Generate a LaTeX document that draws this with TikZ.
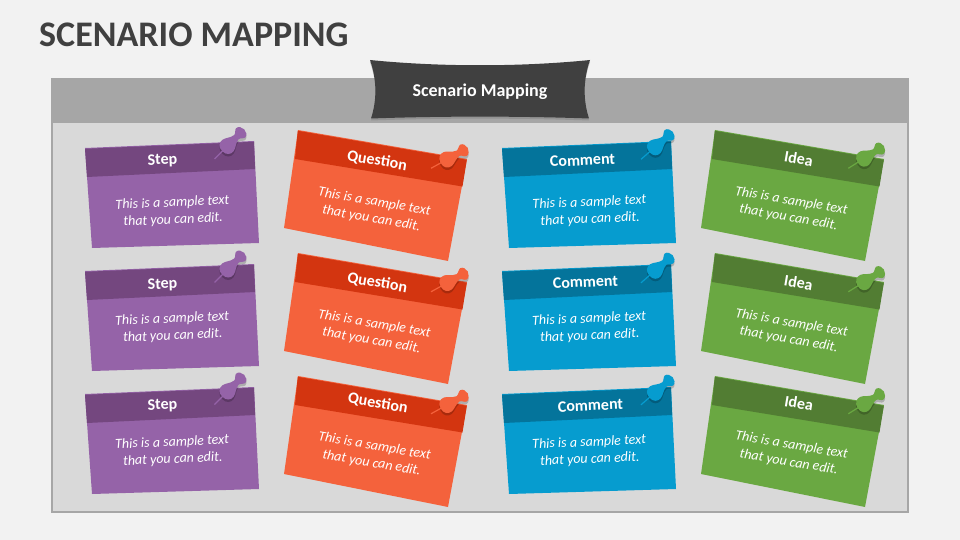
\documentclass[tikz,border=0pt]{standalone}
\usepackage{fontspec}
\setmainfont{Carlito}
\usetikzlibrary{shadows}

\definecolor{pagegray}{HTML}{F2F2F2}
\definecolor{panelgray}{HTML}{D9D9D9}
\definecolor{bandgray}{HTML}{A6A6A6}
\definecolor{bannergray}{HTML}{404040}
\definecolor{titlegray}{HTML}{404040}
\definecolor{stepbody}{HTML}{9563A8}
\definecolor{stephead}{HTML}{74477F}
\definecolor{questionbody}{HTML}{F4623C}
\definecolor{questionhead}{HTML}{D33510}
\definecolor{commentbody}{HTML}{069CCF}
\definecolor{commenthead}{HTML}{04749B}
\definecolor{ideabody}{HTML}{6AA842}
\definecolor{ideahead}{HTML}{527D33}

\tikzset{
  left body/.style={insert path={(-87,-46.5) -- (82,-53.5) -- (87,48.5) -- (-80,53.5) -- cycle}},
  left head/.style={insert path={(-87,-45.7) -- (82,-52.7) -- (83,-25.5) -- (-85,-17.5) -- cycle}},
  right body/.style={insert path={(-77.5,-64.5) -- (91.5,-35.5) -- (72.5,66.5) -- (-91.5,33.5) -- cycle}},
  right head/.style={insert path={(-77.7,-63.7) -- (91.3,-34.7) -- (87,-8) -- (-80.5,-35.5) -- cycle}},
  pin outline/.style={insert path={(11,0) .. controls (11,-6) and (15,-8.5) .. (19,-8) .. controls (23,-7.5) and (26,-3.5) .. (31,-3) .. controls (33,-3) and (35,-6.5) .. (37,-6.5) .. controls (40,-6.5) and (42,-3) .. (42,0) .. controls (42,3) and (40,6.5) .. (37,6.5) .. controls (35,6.5) and (33,3) .. (31,3) .. controls (26,3.5) and (23,7.5) .. (19,8) .. controls (15,8.5) and (11,6) .. (11,0) -- cycle}},
  head label/.style={text=white,font=\fontsize{16}{18}\selectfont\bfseries,inner sep=0pt,transform shape},
  card text/.style={text=white,align=center,inner sep=0pt,transform shape,font=\fontsize{14}{17}\selectfont\itshape},
}

% name, x, y, tilt, angle, kind, label, label position, text position
\newcommand{\scenariocard}[9]{
  \begin{scope}[shift={(#2,#3)}]
    \fill[#6body,#4 body];
    \fill[#6head,#4 head];
    \begin{scope}[rotate=#5]
      \node[head label] (#1-label) at (#8) {#7};
      \node[card text] (#1-text) at (#9) {This is a sample text\\that you can edit.};
    \end{scope}
  \end{scope}
}

% x, y of the needle tip, angle, colour
\newcommand{\pushpin}[4]{
  \fill[black,opacity=.2,shift={(#1,#2+2.5)},rotate=#3,pin outline];
  \begin{scope}[shift={(#1,#2)},rotate=#3]
    \draw[#4,line width=1.2pt] (0,0) -- (12,0);
    \fill[#4,pin outline];
  \end{scope}
}

\begin{document}
\begin{tikzpicture}[x=1pt,y=-1pt]
  \useasboundingbox (0,0) rectangle (960,540);
  \fill[pagegray] (0,0) rectangle (960,540);

  \node[anchor=west,inner sep=0pt,text=titlegray,font=\fontsize{36}{40}\selectfont\bfseries] (title) at (39,35) {SCENARIO MAPPING};

  % panel
  \draw[bandgray,line width=1.5pt,fill=panelgray] (52,79) rectangle (908,512);
  \fill[bandgray] (52,79) rectangle (908,123.5);

  % banner
  \fill[bannergray,drop shadow={shadow xshift=0pt,shadow yshift=-2pt,opacity=.45}] (370,60) .. controls (440,67) and (520,67) .. (590,60) .. controls (583,80) and (583,100) .. (589,118.5) .. controls (520,116) and (440,116) .. (371,118.5) .. controls (377,100) and (377,80) .. (370,60) -- cycle;
  \node[text=white,font=\fontsize{18}{20}\selectfont\bfseries,inner sep=0pt] (banner) at (480,92) {Scenario Mapping};

  % cards
  \foreach \nm/\cy/\lab/\txt in {step1/194.5/{-8,-34.5}/{0,17},step2/317.5/{-8,-33}/{0,10},step3/440.5/{-8,-35.5}/{0,10.5}}
    \scenariocard{\nm}{172}{\cy}{left}{2.5}{step}{Step}{\lab}{\txt};
  \foreach \nm/\cy/\lab/\txt in {question1/194.5/{-4,-33.5}/{0,16},question2/317.5/{-4,-34.5}/{0,15},question3/440.5/{-4,-37}/{0,14.5}}
    \scenariocard{\nm}{375.5}{\cy}{right}{-9.7}{question}{Question}{\lab}{\txt};
  \foreach \nm/\cy/\lab/\txt in {comment1/194.5/{-5,-34.5}/{0,16.5},comment2/317.5/{-2,-35.5}/{0,10},comment3/440.5/{3,-35}/{0,10.5}}
    \scenariocard{\nm}{589}{\cy}{left}{2.5}{comment}{Comment}{\lab}{\txt};
  \foreach \nm/\cy/\lab/\txt in {idea1/194.5/{0,-36.5}/{0,15},idea2/317.5/{0,-35.5}/{0,14},idea3/440.5/{0,-38}/{0,13.5}}
    \scenariocard{\nm}{792.5}{\cy}{right}{-9.7}{idea}{Idea}{\lab}{\txt};

  % pins
  \foreach \y in {0,123.5,245.5} {
    \pushpin{214.5}{159+\y}{45}{stepbody}
    \pushpin{431}{168.3+\y}{29}{questionbody}
    \pushpin{641}{159.3+\y}{41}{commentbody}
    \pushpin{848.3}{168.3+\y}{32}{ideabody}
  }
\end{tikzpicture}
\end{document}
